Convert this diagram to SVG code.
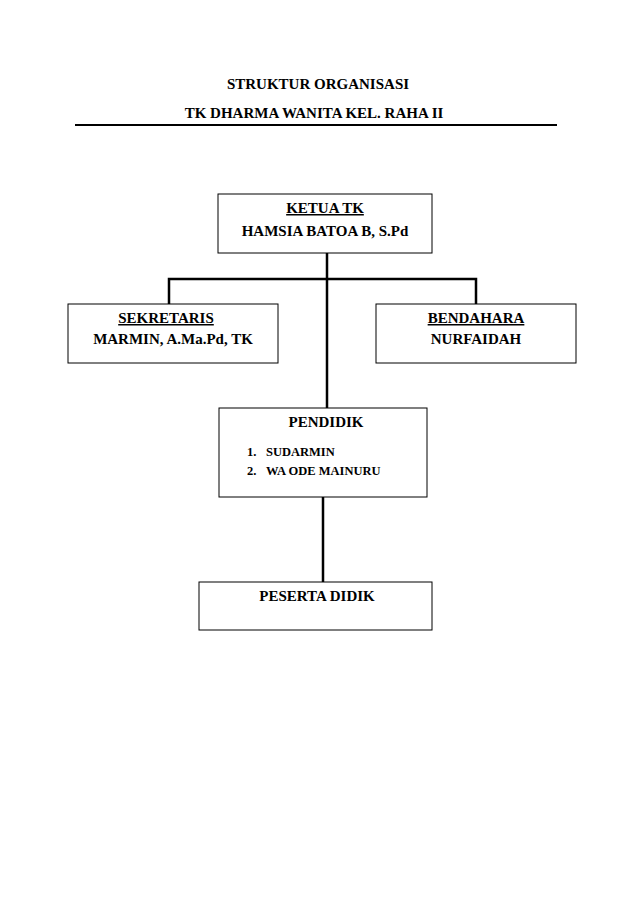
<svg xmlns="http://www.w3.org/2000/svg" width="638" height="902" viewBox="0 0 638 902">
<style>
text{font-family:"Liberation Serif","Times New Roman",serif;font-weight:bold;fill:#000}
.t{font-size:15px;text-anchor:middle}
.s{font-size:12.5px}
.box{fill:#fff;stroke:#000;stroke-width:1}
.ln{stroke:#000;stroke-width:2.5;fill:none}
</style>
<rect width="638" height="902" fill="#fff"/>
<text class="t" x="318" y="89">STRUKTUR ORGANISASI</text>
<text class="t" x="314" y="118">TK DHARMA WANITA KEL. RAHA II</text>
<line x1="75" y1="125" x2="557" y2="125" stroke="#000" stroke-width="2"/>
<g id="connectors">
<path class="ln" d="M327 253V408M169 304V279H476V304M323 497V582"/>
</g>
<g id="ketua"><rect class="box" x="218" y="194" width="214" height="59"/>
<text class="t" x="325" y="213" text-decoration="underline">KETUA TK</text>
<text class="t" x="325" y="236">HAMSIA BATOA B, S.Pd</text></g>
<g id="sekretaris"><rect class="box" x="68" y="304" width="210" height="59"/>
<text class="t" x="166" y="323" text-decoration="underline">SEKRETARIS</text>
<text class="t" x="173" y="344">MARMIN, A.Ma.Pd, TK</text></g>
<g id="bendahara"><rect class="box" x="376" y="304" width="200" height="59"/>
<text class="t" x="476" y="323" text-decoration="underline">BENDAHARA</text>
<text class="t" x="476" y="344">NURFAIDAH</text></g>
<g id="pendidik"><rect class="box" x="219" y="408" width="208" height="89"/>
<text class="t" x="326" y="427">PENDIDIK</text>
<text class="s" x="247" y="456">1.</text><text class="s" x="266" y="456">SUDARMIN</text>
<text class="s" x="247" y="475">2.</text><text class="s" x="266" y="475">WA ODE MAINURU</text></g>
<g id="peserta"><rect class="box" x="199" y="582" width="233" height="48"/>
<text class="t" x="317" y="601">PESERTA DIDIK</text></g>
</svg>
